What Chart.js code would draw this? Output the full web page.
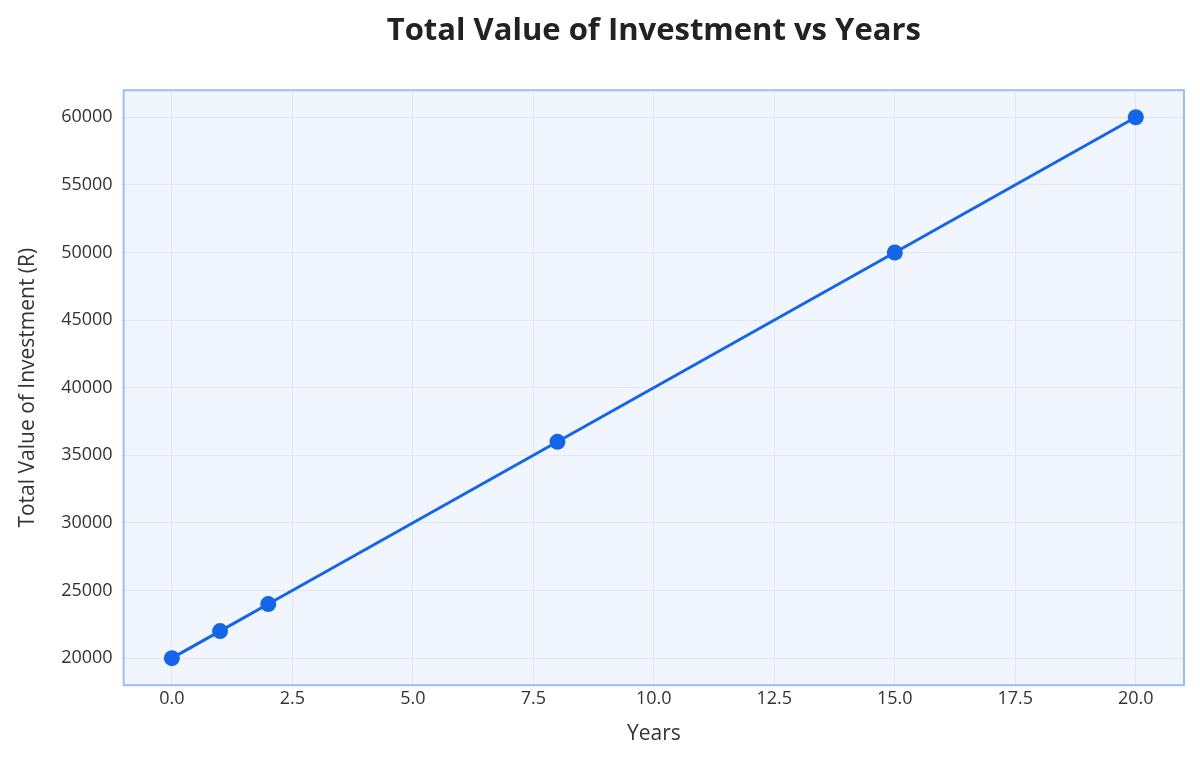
<!DOCTYPE html>
<html>
<head>
<meta charset="utf-8">
<script src="https://cdn.jsdelivr.net/npm/chart.js@4/dist/chart.umd.min.js"></script>
<style>
  html, body { margin: 0; padding: 0; background: #ffffff; }
  #wrap { width: 1200px; height: 761px; }
</style>
</head>
<body>
<div id="wrap"><canvas id="invest"></canvas></div>
<script>
const years = [0, 1, 2, 8, 15, 20];
const totalValue = [20000, 22000, 24000, 36000, 50000, 60000];
const xTicks = [0, 2.5, 5, 7.5, 10, 12.5, 15, 17.5, 20];
const yTicks = [20000, 25000, 30000, 35000, 40000, 45000, 50000, 55000, 60000];

const FONT = "'Open Sans', 'DejaVu Sans', sans-serif";

// fond bleu clair + cadre autour de la zone du graphe
const plotFrame = {
    id: 'plotFrame',
    beforeDraw(chart) {
        const a = chart.chartArea;
        const ctx = chart.ctx;
        ctx.save();
        ctx.fillStyle = '#f1f6fe';
        ctx.fillRect(a.left, a.top, a.right - a.left, a.bottom - a.top);
        ctx.restore();
    },
    afterDraw(chart) {
        const a = chart.chartArea;
        const ctx = chart.ctx;
        ctx.save();
        ctx.strokeStyle = '#9dbdf5';
        ctx.lineWidth = 2;
        ctx.strokeRect(a.left, a.top, a.right - a.left, a.bottom - a.top);
        ctx.restore();
    }
};

const points = years.map((y, i) => ({ x: y, y: totalValue[i] }));

const ctx = document.getElementById("invest").getContext("2d");
const chart = new Chart(ctx, {
    type: "line",
    data: {
        datasets: [{
            label: 'Total Value',
            data: points,
            borderColor: '#1565e8',
            backgroundColor: '#1565e8',
            borderWidth: 3,
            pointRadius: 8,
            pointHoverRadius: 8,
            pointBorderWidth: 0,
            tension: 0
        }]
    },
    options: {
        responsive: true,
        maintainAspectRatio: false,
        animation: false,
        layout: {
            padding: { top: 6, right: 16, bottom: 12, left: 15 }
        },
        plugins: {
            legend: { display: false },
            tooltip: { enabled: false },
            title: {
                display: true,
                fullSize: false,
                text: 'Total Value of Investment vs Years',
                color: '#222222',
                font: { family: FONT, size: 31, weight: 'bold' },
                padding: { top: 7, bottom: 40 }
            }
        },
        scales: {
            x: {
                type: 'linear',
                min: -1,
                max: 21,
                afterBuildTicks: (scale) => {
                    scale.ticks = xTicks.map(v => ({ value: v }));
                },
                ticks: {
                    color: '#333333',
                    font: { family: FONT, size: 18 },
                    padding: 3,
                    callback: (v) => Number(v).toFixed(1)
                },
                grid: { color: '#dfe7f8', lineWidth: 1, drawTicks: false },
                border: { display: false },
                title: {
                    display: true,
                    text: 'Years',
                    color: '#333333',
                    font: { family: FONT, size: 21 },
                    padding: { top: 9, bottom: 2 }
                }
            },
            y: {
                min: 18000,
                max: 62000,
                afterBuildTicks: (scale) => {
                    scale.ticks = yTicks.map(v => ({ value: v }));
                },
                ticks: {
                    color: '#333333',
                    font: { family: FONT, size: 18 },
                    padding: 11,
                    callback: (v) => String(v)
                },
                grid: { color: '#dfe7f8', lineWidth: 1, drawTicks: false },
                border: { display: false },
                title: {
                    display: true,
                    text: 'Total Value of Investment (R)',
                    color: '#333333',
                    font: { family: FONT, size: 21 },
                    padding: { top: 0, bottom: 10 }
                }
            }
        }
    },
    plugins: [plotFrame]
});
</script>
</body>
</html>
